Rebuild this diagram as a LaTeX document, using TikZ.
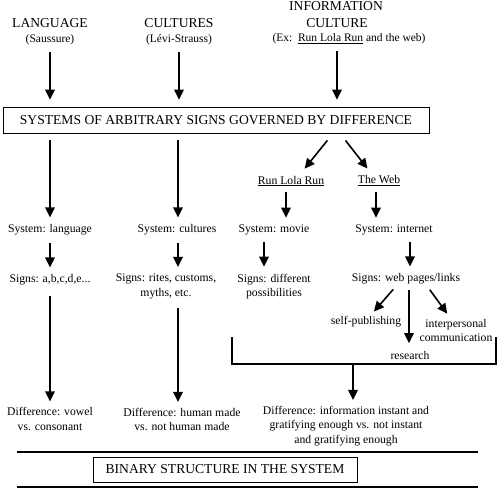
\documentclass[tikz,border=0pt]{standalone}
\usepackage{fontspec}
\setmainfont{Liberation Serif}
\usetikzlibrary{arrows.meta,calc}
\newcommand\capsize{\fontsize{13.6}{16}\selectfont}
\newcommand\subsize{\fontsize{11.5}{14}\selectfont}
\newcommand\bodysize{\fontsize{11.7}{14.5}\selectfont}

\begin{document}
\begin{tikzpicture}[x=1pt, y=-1pt,
        every node/.style={inner sep=0pt, font=\bodysize},
        arr/.style={line width=1.6pt, -{Triangle[length=10pt, width=9.5pt]}, shorten <=7pt, shorten >=7pt},
        frame/.style={draw, line width=0.8pt, font=\capsize},
        rule/.style={line width=1.8pt}]
        \useasboundingbox (0, 0) rectangle (500, 489);

        % headings
        \node (langT) at (50, 23) {\capsize LANGUAGE};
        \node (langS) at (50, 40) {\subsize (Saussure)};
        \node (cultT) at (179, 23) {\capsize CULTURES};
        \node (cultS) at (179, 40) {\subsize (L\'evi-Strauss)};
        \node (infoT) at (336, 6) {\capsize INFORMATION};
        \node (infoC) at (337, 23) {\capsize CULTURE};
        \node (infoS) at (349, 39) {\subsize (Ex:\ \ \underline{Run Lola Run} and the web)};

        \node [frame, minimum width=426pt, minimum height=26pt] (sys) at (216, 120) {SYSTEMS OF ARBITRARY SIGNS GOVERNED BY DIFFERENCE};

        \draw [arr] (langS.south) -- (langS.south |- sys.north);
        \draw [arr] (cultS.south) -- (cultS.south |- sys.north);
        \draw [arr] (infoS.south -| infoC) -- (infoC |- sys.north);

        % language
        \node (sysL) at (50, 230) {System: language};
        \node (sigL) at (50, 280) {Signs: a,b,c,d,e...};
        \node [align=center] (difL) at (50, 419) {Difference: vowel\\vs. consonant};
        \draw [arr] (sys.south -| sysL) -- (sysL);
        \draw [arr] (sysL) -- (sigL);
        \draw [arr, shorten <=10pt, shorten >=6pt] (sigL) -- (difL);

        % cultures
        \coordinate (colC) at (178, 0);
        \node (sysC) at (177, 230) {System: cultures};
        \node [align=center] (sigC) at (166, 286.5) {Signs: rites, customs,\\myths, etc.};
        \node [align=center] (difC) at (182, 419.5) {Difference: human made\\vs. not human made};
        \draw [arr] (sys.south -| colC) -- (sysC.north -| colC);
        \draw [arr] (sysC.south -| colC) -- (sigC.north -| colC);
        \draw [arr, shorten <=9pt, shorten >=6pt] (sigC.south -| colC) -- (difC.north -| colC);

        % information culture
        \node (rlr) at (291, 181) {\underline{Run Lola Run}};
        \node (web) at (379, 181) {\underline{The Web}};
        \draw [arr, shorten <=9pt, shorten >=9pt] ($(sys.south -| infoC)+(-4, 0)$) -- ($(rlr.north)+(8, 0)$);
        \draw [arr, shorten <=9pt, shorten >=9pt] ($(sys.south -| infoC)+(3, 0)$) -- ($(web.north)+(-6, 0)$);

        \node (movie) at (274, 230) {System: movie};
        \node (inet) at (394, 230) {System: internet};
        \draw [arr, shorten <=6pt] ([xshift=-5pt]rlr.south) -- ([xshift=12pt]movie.north);
        \draw [arr, shorten <=6pt] ([xshift=-3pt]web.south) -- ([xshift=-18pt]inet.north);

        \node [align=center] (sigM) at (274, 286.5) {Signs: different\\possibilities};
        \node (sigW) at (406, 279) {Signs: web pages/links};
        \draw [arr] ([xshift=-10pt]movie.south) -- ([xshift=-10pt]sigM.north);
        \draw [arr] ([xshift=16pt]inet.south) -- ([xshift=4pt]sigW.north);

        \node (selfp) at (366, 322) {self-publishing};
        \node [align=center] (inter) at (456, 330.5) {interpersonal\\communication};
        \node (resrch) at (410, 355) {research};
        \draw [arr, shorten <=6.5pt, shorten >=6.5pt] ([xshift=-8.5pt]sigW.south) -- ([xshift=3.6pt]selfp.north);
        \draw [arr, shorten <=6.5pt, shorten >=6.5pt] ([xshift=20pt]sigW.south) -- ([xshift=-5pt]inter.north);
        \draw [arr, shorten <=5.5pt, shorten >=7.5pt] ([xshift=3pt]sigW.south) -- ([xshift=-1pt]resrch.north);

        % bracket
        \coordinate (brL) at (232, 337);
        \coordinate (brR) at (496, 337);
        \coordinate (brM) at (353, 364);
        \draw [line width=1.2pt] (brL) |- (brM) -| (brR);

        \node [align=center] (difR) at (346, 426) {Difference: information instant and\\gratifying enough vs. not instant\\and gratifying enough};
        \draw [arr, shorten <=0pt, shorten >=6pt] (brM) -- (brM |- difR.north);

        % binary structure
        \draw [rule] (17, 452) -- (478, 452);
        \node [frame, minimum width=264pt, minimum height=25pt] (binary) at (225, 469.5) {BINARY STRUCTURE IN THE SYSTEM};
        \draw [rule] (17, 487) -- (478, 487);
\end{tikzpicture}
\end{document}
